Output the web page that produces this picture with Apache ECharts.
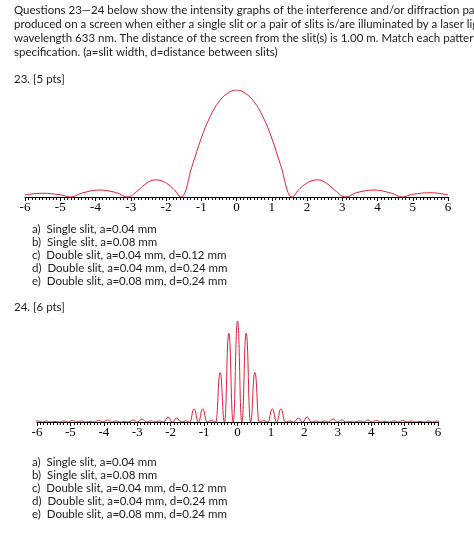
<!DOCTYPE html>
<html><head><meta charset="utf-8">
<script src="https://cdn.jsdelivr.net/npm/echarts@6/dist/echarts.min.js"></script>
<style>html,body{margin:0;padding:0;background:#fff}#c{width:474px;height:533px}</style>
</head><body><div id="c"></div>
<script>
// Chart 23: single-slit pattern, read points (position, relative intensity)
var xs1 = [-6,-5.5,-5.0,-4.7,-4.4,-3.9,-3.4,-3.1,-2.8,-2.55,-2.3,-2.05,-1.8,-1.58,-1.25,-1.0,-0.75,-0.5,-0.25,0,0.25,0.5,0.75,1.0,1.25,1.58,1.8,2.05,2.3,2.55,2.8,3.1,3.4,3.9,4.4,4.7,5.0,5.5,6];
var ys1 = [0.02,0.035,0.02,0,0.035,0.065,0.04,0,0.06,0.13,0.16,0.14,0.08,0,0.3,0.55,0.75,0.89,0.97,1,0.97,0.89,0.75,0.55,0.3,0,0.08,0.14,0.16,0.13,0.06,0,0.04,0.065,0.035,0,0.025,0.04,0.02];
// Chart 24: double-slit fringe peaks by order |k|, fringe spacing
var fringeSpacing = 0.26;
var peaks2 = [1,0.88,0.49,0.015,0.13,0.13,0.01,0.04,0.05,0.01,0.01,0.03,0.02,0.005,0.01,0.02,0.015,0.005,0.01,0.015,0.01,0.005,0.01,0.01];
var tickLabels = ['-6','-5','-4','-3','-2','-1','0','1','2','3','4','5','6'];

var d1 = xs1.map(function(x,i){return [x,ys1[i]];});
var d2 = [];
for (var k=-23;k<=23;k++){
  var p = peaks2[Math.abs(k)];
  d2.push([(k-0.5)*fringeSpacing,0]);
  d2.push([k*fringeSpacing,p]);
}
d2.push([23.5*fringeSpacing,0]);

var chart = echarts.init(document.getElementById('c'));
var sans = 'Lato, "Noto Sans", sans-serif';
function T(x,y,t){return {type:'text',left:x,top:y,style:{text:t,font:'11.5px '+sans,fill:'#222'}};}
var g = [
 T(14,4,'Questions 23\u201424 below show the intensity graphs of the interference and/or diffraction patterns'),
 T(14,18,'produced on a screen when either a single slit or a pair of slits is/are illuminated by a laser light of'),
 T(14,32,'wavelength 633 nm. The distance of the screen from the slit(s) is 1.00 m. Match each pattern with its slit'),
 T(14,46,'specification. (a=slit width, d=distance between slits)'),
 T(14,73,'23. [5 pts]'),
 T(14,301,'24. [6 pts]')
];
var opts = ['a)  Single slit, a=0.04 mm','b)  Single slit, a=0.08 mm','c)  Double slit, a=0.04 mm, d=0.12 mm','d)  Double slit, a=0.04 mm, d=0.24 mm','e)  Double slit, a=0.08 mm, d=0.24 mm'];
opts.forEach(function(o,i){g.push(T(32,223+i*13,o));g.push(T(32,456+i*13,o));});

function xa(idx){return {gridIndex:idx,type:'value',min:-6,max:6,interval:1,
  axisLine:{lineStyle:{color:'#000',width:1}},
  axisTick:{length:4,lineStyle:{color:'#000'}},
  minorTick:{show:true,splitNumber:10,length:3,lineStyle:{color:'#000'}},
  splitLine:{show:false},
  axisLabel:{margin:4,color:'#000',fontFamily:'"Liberation Serif", serif',fontSize:13,
    formatter:function(v){return tickLabels[Math.round(v)+6];}}};}
function ya(idx){return {gridIndex:idx,type:'value',min:0,max:1,show:false};}
chart.setOption({
  animation:false,
  graphic:g,
  grid:[{left:25,right:26,top:90,bottom:336},{left:37,right:36,top:321,bottom:111}],
  xAxis:[xa(0),xa(1)],
  yAxis:[ya(0),ya(1)],
  series:[
    {type:'line',xAxisIndex:0,yAxisIndex:0,data:d1,smooth:0.4,showSymbol:false,lineStyle:{color:'#e0203a',width:1}},
    {type:'line',xAxisIndex:1,yAxisIndex:1,data:d2,smooth:true,smoothMonotone:'x',showSymbol:false,lineStyle:{color:'#e0203a',width:1}}
  ]
});
</script></body></html>
